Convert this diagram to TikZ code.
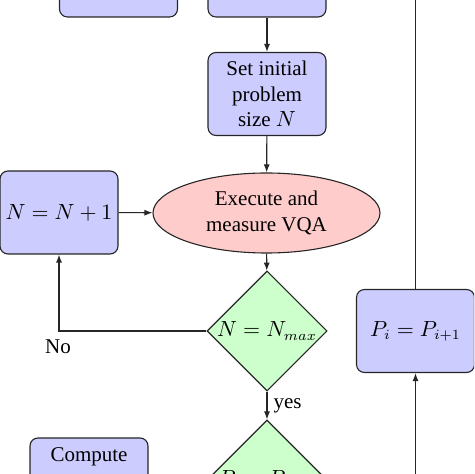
\documentclass[tikz,border=0pt]{standalone}
\usepackage{fontspec}
\setmainfont{Liberation Serif}
\usetikzlibrary{shapes.geometric,arrows.meta}
\begin{document}
\begin{tikzpicture}[x=0.5pt,y=-0.5pt,
  font=\fontsize{10.5}{12.6}\selectfont,
  line width=0.55pt,
  procbox/.style={draw=black!85,fill=blue!20,rounded corners=4pt,minimum width=59pt,minimum height=41.5pt,align=center,inner sep=2pt},
  oval/.style={draw=black!85,fill=red!20,ellipse,minimum width=113.5pt,minimum height=40pt,align=center,inner sep=0pt},
  decide/.style={draw=black!85,fill=green!20,diamond,minimum width=60pt,minimum height=60pt,inner sep=0pt},
  flow/.style={draw=black!85,-{Latex[length=4pt,width=3pt]}},
  conn/.style={draw=black!85},
  lbl/.style={inner sep=1pt}]
\useasboundingbox (0,0) rectangle (474,474);
\clip (0,0) rectangle (474,474);
\node[procbox] (topl) at (118.5,-24.5) {};
\node[procbox] (topm) at (267,-24.5) {};
\node[procbox] (init) at (267,94) {Set initial\\problem\\size $N$};
\node[oval] (exec) at (266.5,213) {Execute and\\measure VQA};
\node[procbox] (inc) at (59,212.5) {$N=N+1$};
\node[decide] (dn) at (267,331) {$N=N_{max}$};
\node[decide] (dp) at (267,480) {$P_i=P_{max}$};
\node[procbox] (comp) at (89,479.5) {Compute\\[12pt]};
\node[procbox] (pinc) at (415.5,331) {$P_i=P_{i+1}$};
\coordinate (ptop) at (415.5,-40);
\coordinate (pbot) at (415.5,520);
\coordinate (corner) at (inc.south |- dn.west);
\draw[flow] (topm) -- (init);
\draw[flow] (init) -- (exec);
\draw[flow] (inc) -- (exec);
\draw[flow] (exec) -- (dn);
\draw[flow] (dn.west) -- (corner) -- (inc.south);
\node[lbl] (no) at (58,347) {No};
\draw[flow] (dn) -- node[right,lbl,xshift=2pt] (yes) {yes} (dp);
\draw[conn] (pinc) -- (ptop);
\draw[flow] (pbot) -- (pinc);
\end{tikzpicture}
\end{document}
